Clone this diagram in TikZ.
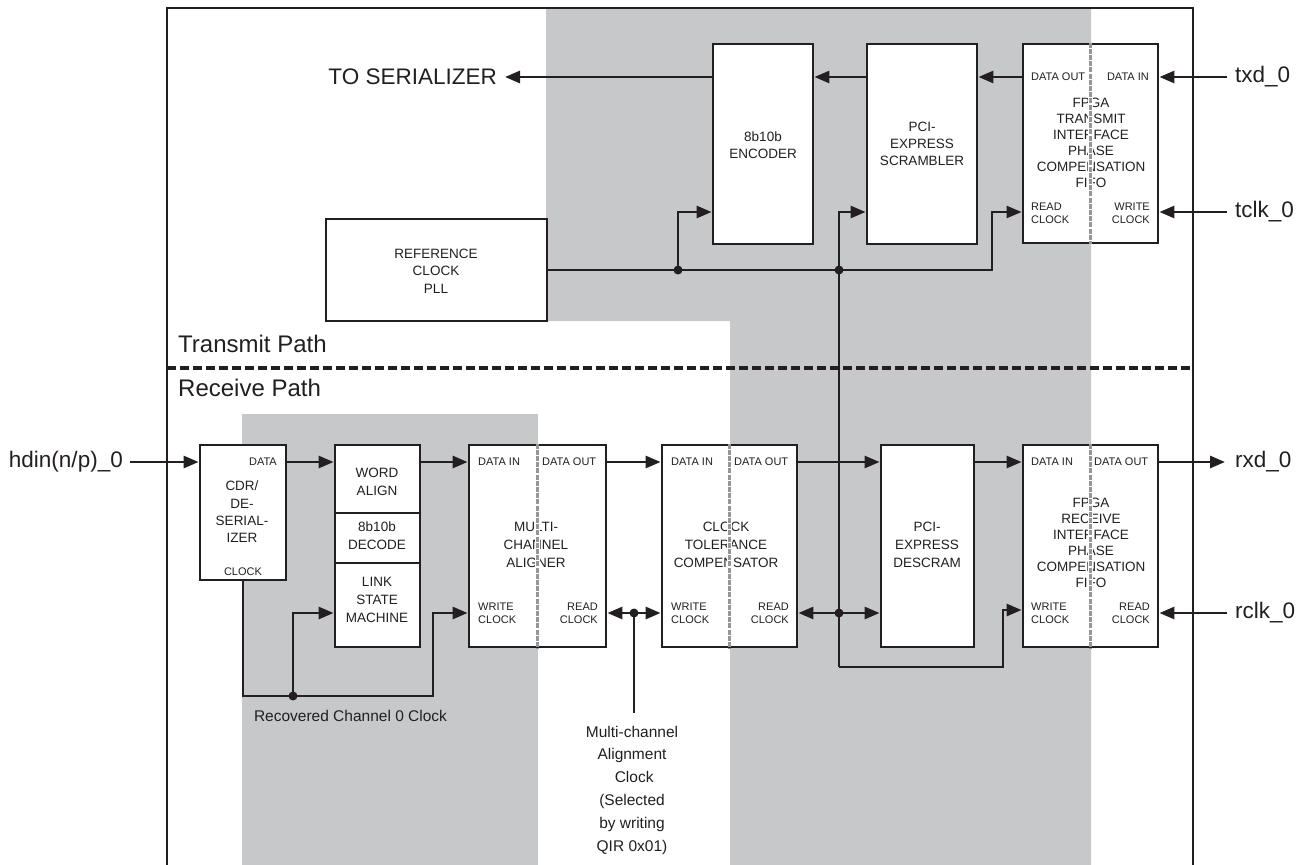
\documentclass[tikz,border=0pt]{standalone}
\usepackage{fontspec}
\setmainfont{Liberation Sans}
\usetikzlibrary{arrows.meta}
\definecolor{ink}{RGB}{35,31,32}
\definecolor{bgshade}{RGB}{199,200,202}
\definecolor{divc}{RGB}{150,150,152}
\begin{document}
\begin{tikzpicture}[x=1pt,y=-1pt,
  >={Triangle[length=15pt,width=12pt]},
  blk/.style={draw=ink,line width=2.8pt,fill=white,inner sep=0pt},
  conn/.style={draw=ink,line width=2.8pt},
  btxt/.style={text=ink,font=\fontsize{13.5}{18}\selectfont,align=center,inner sep=0pt},
  ftxt/.style={text=ink,font=\fontsize{13.5}{16}\selectfont,align=center,inner sep=0pt},
  port/.style={text=ink,font=\fontsize{11}{13}\selectfont,inner sep=0pt},
  big/.style={text=ink,font=\fontsize{22.5}{27}\selectfont,inner sep=0pt},
  pathlbl/.style={text=ink,font=\fontsize{24}{28}\selectfont,inner sep=0pt},
  note/.style={text=ink,font=\fontsize{15.5}{22.8}\selectfont,align=center,inner sep=0pt},
  dot/.style={circle,fill=ink,inner sep=0pt,minimum size=9pt},
  divwhite/.style={draw=white,line width=5pt},
  divgray/.style={draw=divc,line width=2.8pt,dash pattern=on 5pt off 1.2pt}
]
\useasboundingbox (0,0) rectangle (1307,865);
% shaded regions
\fill[bgshade] (546,8) -- (1091,8) -- (1091,865) -- (730,865) -- (730,321) -- (546,321) -- cycle;
\fill[bgshade] (242,414) rectangle (538,865);
% frame
\draw[ink,line width=2.4pt] (167,865) -- (167,8) -- (1193,8) -- (1193,865);
\draw[ink,line width=3.8pt,dash pattern=on 9pt off 4pt] (167,368) -- (1193,368);
\node[pathlbl,anchor=base west] (tp) at (178,352) {Transmit Path};
\node[pathlbl,anchor=base west] (rp) at (178,396) {Receive Path};

% row coordinates
\coordinate (rowT) at (0,77);
\coordinate (rowTC) at (0,212);
\coordinate (rowD) at (0,462);
\coordinate (rowC) at (0,613);
\coordinate (rowW) at (0,610);

% ---------- transmit boxes ----------
\node[blk,minimum width=100pt,minimum height=200pt] (enc) at (763,144) {};
\node[btxt,font=\fontsize{13.5}{17}\selectfont] (enct) at (763,145) {8b10b\\ENCODER};
\node[blk,minimum width=110pt,minimum height=200pt] (scr) at (922,144) {};
\node[btxt,font=\fontsize{13.5}{17}\selectfont] (scrt) at (922,144) {PCI-\\EXPRESS\\SCRAMBLER};
\node[blk,minimum width=135pt,minimum height=199pt] (ftx) at (1090.5,143.5) {};
\node[ftxt] (ftxt1) at (1091,143) {FPGA\\TRANSMIT\\INTERFACE\\PHASE\\COMPENSATION\\FIFO};
\node[port,anchor=west] (ftxdo) at (1031,77) {DATA OUT};
\node[port,anchor=east] (ftxdi) at (1149,77) {DATA IN};
\node[port,anchor=west,align=left] (ftxrc) at (1031,213) {READ\\CLOCK};
\node[port,anchor=east,align=right] (ftxwc) at (1150,213) {WRITE\\CLOCK};
\draw[divwhite] ([yshift=-2.8pt]ftx.north) -- ([yshift=2.8pt]ftx.south);
\draw[divgray] (ftx.north) -- (ftx.south);
\node[blk,minimum width=221pt,minimum height=102pt] (pll) at (436.5,270) {};
\node[btxt,font=\fontsize{13.5}{17.5}\selectfont] (pllt) at (436,271) {REFERENCE\\CLOCK\\PLL};

% transmit labels
\node[big,anchor=west] (txd) at (1235,77) {txd\_0};
\node[big,anchor=west] (tclk) at (1235,212) {tclk\_0};
\node[big,anchor=east] (ser) at (497,77) {TO SERIALIZER};

% transmit data
\draw[conn,->] ([xshift=-8pt]txd.west) -- (ftx.east |- rowT);
\draw[conn,->] (ftx.west |- rowT) -- (scr.east |- rowT);
\draw[conn,->] (scr.west |- rowT) -- (enc.east |- rowT);
\draw[conn,->] (enc.west |- rowT) -- ([xshift=8pt]ser.east);
\draw[conn,->] ([xshift=-8pt]tclk.west) -- (ftx.east |- rowTC);

% transmit clock
\node[dot] (j1) at (678,270) {};
\node[dot] (j2) at (839,270) {};
\coordinate (j3) at (992,270);
\draw[conn,line width=2.3pt,->] (pll.east) -- (j3) |- (ftx.west |- rowTC);
\draw[conn,->] (j1.center) |- (enc.west |- rowTC);
\draw[conn,->] (j2.center) |- (scr.west |- rowTC);

% ---------- receive boxes ----------
\node[blk,minimum width=86pt,minimum height=135pt] (cdr) at (243,512.5) {};
\node[btxt,font=\fontsize{13.5}{17.3}\selectfont] (cdrt) at (242,512) {CDR/\\DE-\\SERIAL-\\IZER};
\node[port,anchor=east] (cdrd) at (277,462) {DATA};
\node[port] (cdrc) at (243,572) {CLOCK};

\node[blk,minimum width=85pt,minimum height=68pt] (wa1) at (377.5,479) {};
\node[blk,minimum width=85pt,minimum height=50pt] (wa2) at (377.5,538) {};
\node[blk,minimum width=85pt,minimum height=84pt] (wa3) at (377.5,605) {};
\node[btxt] (wa1t) at (377,482) {WORD\\ALIGN};
\node[btxt] (wa2t) at (377,536) {8b10b\\DECODE};
\node[btxt] (wa3t) at (377,600) {LINK\\STATE\\MACHINE};

\node[blk,minimum width=137pt,minimum height=202pt] (mca) at (537.5,546) {};
\node[btxt] (mcat) at (536,545) {MULTI-\\CHANNEL\\ALIGNER};
\node[port,anchor=west] (mcadi) at (478,462) {DATA IN};
\node[port,anchor=west] (mcado) at (542,462) {DATA OUT};
\node[port,anchor=west,align=left] (mcawc) at (478,613) {WRITE\\CLOCK};
\node[port,anchor=east,align=right] (mcarc) at (598,613) {READ\\CLOCK};
\draw[divwhite] ([yshift=-2.8pt]mca.north) -- ([yshift=2.8pt]mca.south);
\draw[divgray] (mca.north) -- (mca.south);

\node[blk,minimum width=135pt,minimum height=202pt] (ctc) at (729.5,546) {};
\node[btxt] (ctct) at (726,545) {CLOCK\\TOLERANCE\\COMPENSATOR};
\node[port,anchor=west] (ctcdi) at (671,462) {DATA IN};
\node[port,anchor=west] (ctcdo) at (734,462) {DATA OUT};
\node[port,anchor=west,align=left] (ctcwc) at (671,613) {WRITE\\CLOCK};
\node[port,anchor=east,align=right] (ctcrc) at (789,613) {READ\\CLOCK};
\draw[divwhite] ([yshift=-2.8pt]ctc.north) -- ([yshift=2.8pt]ctc.south);
\draw[divgray] (ctc.north) -- (ctc.south);

\node[blk,minimum width=93pt,minimum height=202pt] (dsc) at (927.5,546) {};
\node[btxt] (dsct) at (927,545) {PCI-\\EXPRESS\\DESCRAM};

\node[blk,minimum width=135pt,minimum height=202pt] (frx) at (1090.5,546) {};
\node[ftxt] (frxt) at (1091,543) {FPGA\\RECEIVE\\INTERFACE\\PHASE\\COMPENSATION\\FIFO};
\node[port,anchor=west] (frxdi) at (1031,462) {DATA IN};
\node[port,anchor=west] (frxdo) at (1094,462) {DATA OUT};
\node[port,anchor=west,align=left] (frxwc) at (1031,613) {WRITE\\CLOCK};
\node[port,anchor=east,align=right] (frxrc) at (1150,613) {READ\\CLOCK};
\draw[divwhite] ([yshift=-2.8pt]frx.north) -- ([yshift=2.8pt]frx.south);
\draw[divgray] (frx.north) -- (frx.south);

% receive labels
\node[big,anchor=east] (hdin) at (123,462) {hdin(n/p)\_0};
\node[big,anchor=west] (rxd) at (1235,462) {rxd\_0};
\node[big,anchor=west] (rclk) at (1235,613) {rclk\_0};
\node[note] (rec) at (350.5,716) {Recovered Channel 0 Clock};
\node[note] (mnote) at (632,790) {Multi-channel\\Alignment\\\ Clock\\(Selected\\by writing\\QIR 0x01)};

% receive data path
\draw[conn,->] ([xshift=7pt]hdin.east) -- (cdr.west |- rowD);
\draw[conn,->] (cdr.east |- rowD) -- (wa1.west |- rowD);
\draw[conn,->] (wa1.east |- rowD) -- (mca.west |- rowD);
\draw[conn,->] (mca.east |- rowD) -- (ctc.west |- rowD);
\draw[conn,->] (ctc.east |- rowD) -- (dsc.west |- rowD);
\draw[conn,->] (dsc.east |- rowD) -- (frx.west |- rowD);
\draw[conn,->] (frx.east |- rowD) -- ([xshift=-10pt]rxd.west);
\draw[conn,->] ([xshift=-8pt]rclk.west) -- (frx.east |- rowC);

% recovered clock
\node[dot] (k1) at (293,696) {};
\coordinate (k2) at (433,696);
\draw[conn,->] (cdr.south) |- (k2) |- (mca.west |- rowC);
\draw[conn,->] (k1.center) |- (wa3.west |- rowC);

% multi-channel alignment clock
\node[dot] (m1) at (634,613) {};
\coordinate (m2) at (634,713);
\draw[conn,<->] (mca.east |- rowC) -- (ctc.west |- rowC);
\draw[conn] (m1.center) -- (m2);

% clock from transmit PLL into receive
\node[dot] (j4) at (839,613) {};
\coordinate (j5) at (839,667);
\coordinate (j6) at (1003,667);
\draw[conn,<->] (ctc.east |- rowC) -- (dsc.west |- rowC);
\draw[conn] (j2.center) -- (j5);
\draw[conn,->] (j5) -- (j6) |- (frx.west |- rowW);
\end{tikzpicture}
\end{document}
